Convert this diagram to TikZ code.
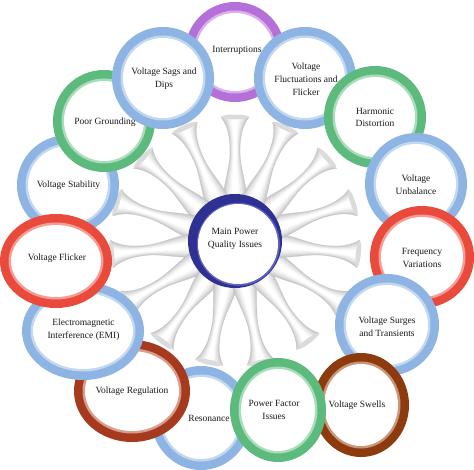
\documentclass[tikz,border=0pt]{standalone}
\usepackage{fontspec}
\setmainfont{Liberation Serif}
\definecolor{blueR}{HTML}{8DB4E2}\definecolor{blueL}{HTML}{C2D7F0}
\definecolor{greenR}{HTML}{5BBA7C}\definecolor{greenL}{HTML}{A9DDB9}
\definecolor{redR}{HTML}{EA4A3C}\definecolor{redL}{HTML}{F59C94}
\definecolor{purpleR}{HTML}{B56FD8}\definecolor{purpleL}{HTML}{DAB0EC}
\definecolor{brownR}{HTML}{8E3A0F}\definecolor{brownL}{HTML}{C9967C}
\definecolor{rustR}{HTML}{A53A1F}\definecolor{rustL}{HTML}{DB9C8A}
\definecolor{navyR}{HTML}{2E3192}\definecolor{navyL}{HTML}{5E62C2}
\newcommand\qring[9]{%
  \fill[#6R] (#2,#3) ellipse [x radius=#4pt, y radius=#5pt];
  \fill[#6L] (#2,#3) ellipse [x radius=#4pt-8.5pt, y radius=#5pt-8.5pt];
  \fill[white] (#2,#3) ellipse [x radius=#4pt-11pt, y radius=#5pt-11pt];
  \node[lbl] (#1) at (#7,#8) {#9};
}
\begin{document}
\begin{tikzpicture}[x=1pt,y=-1pt,
  lbl/.style={align=center, inner sep=0pt, text=black!90,
    font=\fontsize{9.5}{12.8}\selectfont},
  spk/.style={insert path={(34,-13) .. controls (62,-11) and (72,-5) .. (90,-5)
     .. controls (106,-5) and (116,-8) .. (124,-14) -- (124,14)
     .. controls (116,8) and (106,5) .. (90,5)
     .. controls (72,5) and (62,11) .. (34,13) -- cycle}}]
\useasboundingbox[fill=white] (0,0) rectangle (474,470);
% spokes
\foreach \a in {90,114,138,162,186,210,234,258,282,306,330,354,18,42,66}{
  \begin{scope}[transform canvas={shift={(235,241)},rotate=\a}]
    \fill[gray!42, spk];
    \fill[gray!32, yscale=0.88, spk];
    \fill[gray!22, yscale=0.75, spk];
    \fill[gray!13, yscale=0.6, spk];
    \fill[gray!6, yscale=0.45, spk];
    \fill[white, yscale=0.3, spk];
    \draw[gray!50, line width=0.2pt, spk];
    \fill[gray!28] (124,0) ellipse [x radius=2.5pt, y radius=13.5pt];
  \end{scope}
}
% centre ring
\fill[navyR] (235,241) circle [radius=47pt];
\fill[navyL] (238.3,244.3) circle [radius=41.5pt];
\fill[white] (238,244) circle [radius=40pt];
\node[lbl] (main) at (235,239) {Main Power\\Quality Issues};
% outer rings (drawing order = stacking)
\qring{intr}{235}{52}{50}{50}{purple}{237}{50}{Interruptions}
\qring{fluct}{305}{78}{51}{51}{blue}{306}{79.5}{Voltage\\Fluctuations and\\Flicker}
\qring{harm}{375}{117}{51}{51}{green}{375}{117.5}{Harmonic\\Distortion}
\qring{unbal}{416}{184}{51}{51}{blue}{416}{185}{Voltage\\Unbalance}
\qring{freq}{422}{257}{52}{51}{red}{422}{258}{Frequency\\Variations}
\qring{surge}{387}{325}{52}{51}{blue}{387}{327}{Voltage Surges\\and Transients}
\qring{swell}{361}{405}{48}{52}{brown}{357}{405}{Voltage Swells}
\qring{reson}{201}{418}{50}{52}{blue}{209}{418}{Resonance}
\qring{pf}{278}{410}{48}{52}{green}{274}{410}{Power Factor\\Issues}
\qring{reg}{132}{391}{58}{51}{rust}{132}{391}{Voltage Regulation}
\qring{emi}{83}{331}{61}{49}{blue}{83.5}{330}{Electromagnetic\\Interference (EMI)}
\qring{stab}{68}{185}{51}{50}{blue}{68.5}{185}{Voltage Stability}
\qring{flick}{56}{261}{56}{47}{red}{57}{258}{Voltage Flicker}
\qring{ground}{104}{121}{51}{51}{green}{105}{122}{Poor Grounding}
\qring{sags}{163}{78}{51}{51}{blue}{164}{79}{Voltage Sags and\\Dips}
\end{tikzpicture}
\end{document}
